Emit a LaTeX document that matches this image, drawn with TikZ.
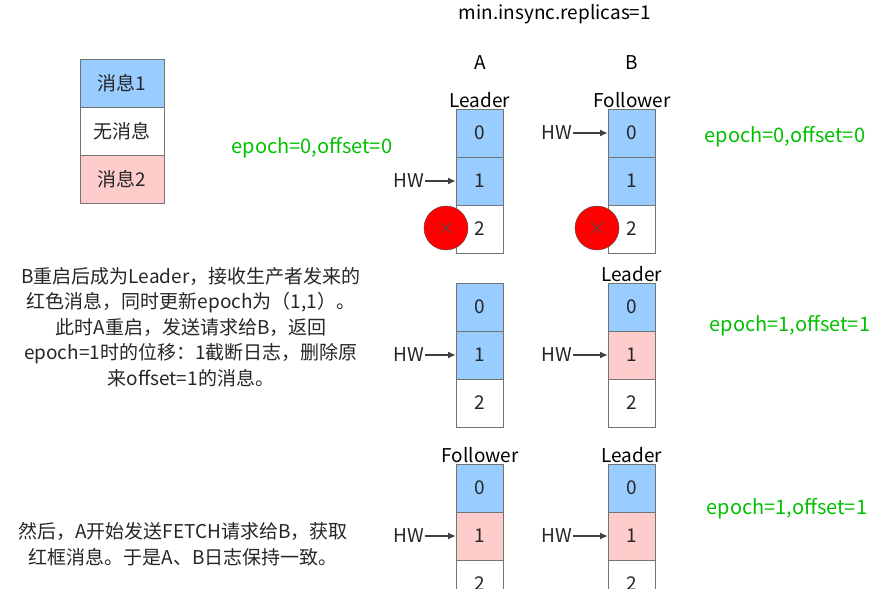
\documentclass[tikz,border=0pt]{standalone}
\usepackage{fontspec}
\setmainfont{Noto Sans CJK SC}
\usetikzlibrary{positioning,arrows.meta}
\definecolor{msgblue}{HTML}{99CCFF}
\definecolor{msgred}{HTML}{FFCCCC}
\definecolor{epochgreen}{HTML}{00C000}
\begin{document}
\begin{tikzpicture}[x=1pt,y=-1pt,font=\fontsize{19}{25.5}\selectfont,
  cell/.style={draw=black!55,line width=1pt,minimum width=47pt,minimum height=48pt,inner sep=0pt,text=black!85},
  blue cell/.style={cell,fill=msgblue},
  red cell/.style={cell,fill=msgred},
  white cell/.style={cell,fill=white},
  legend/.style={cell,minimum width=84pt},
  hw/.style={text=black!85,inner sep=1pt},
  hw arrow/.style={-{Latex[length=8pt,width=7pt]},line width=2pt,black!75},
  epoch/.style={text=epochgreen,font=\fontsize{20}{24}\selectfont},
  crash/.style={circle,draw=black!70,fill=red,minimum size=44pt,inner sep=0pt,
    text=black!70,font=\fontsize{30}{30}\selectfont}]
  \useasboundingbox (0,0) rectangle (881,589);
  \clip (0,0) rectangle (881,589);
  % legend
  \node[legend,fill=msgblue] (l1) at (122,83) {消息1};
  \node[legend,fill=white] (l2) at (122,131) {无消息};
  \node[legend,fill=msgred] (l3) at (122,179) {消息2};
  \node (title) at (555,14) {min.insync.replicas=1};
  \node (colA) at (480,63) {A};
  \node (colB) at (632,63) {B};
  % first step
  \node[blue cell] (a10) at (480,133) {0};
  \node[blue cell] (a11) at (480,181) {1};
  \node[white cell] (a12) at (480,229) {2};
  \node[blue cell] (b10) at (632,133) {0};
  \node[blue cell] (b11) at (632,181) {1};
  \node[white cell] (b12) at (632,229) {2};
  \node[above=-3pt of a10] {Leader};
  \node[above=-3pt of b10] {Follower};
  \node[crash] (xa) at (446,228) {$\times$};
  \node[crash] (xb) at (597,228) {$\times$};
  \node[hw] (hwa1) at (409,181) {HW};
  \node[hw] (hwb1) at (557,133) {HW};
  \draw[hw arrow] (hwa1) -- (a11.west);
  \draw[hw arrow] (hwb1) -- (b10.west);
  \node[epoch] at (312,148) {epoch=0,offset=0};
  \node[epoch] at (785,137) {epoch=0,offset=0};
  % second step
  \node[blue cell] (a20) at (480,307) {0};
  \node[blue cell] (a21) at (480,355) {1};
  \node[white cell] (a22) at (480,403) {2};
  \node[blue cell] (b20) at (632,307) {0};
  \node[red cell] (b21) at (632,355) {1};
  \node[white cell] (b22) at (632,403) {2};
  \node[above=-3pt of b20] {Leader};
  \node[hw] (hwa2) at (409,355) {HW};
  \node[hw] (hwb2) at (557,355) {HW};
  \draw[hw arrow] (hwa2) -- (a21.west);
  \draw[hw arrow] (hwb2) -- (b21.west);
  \node[epoch] at (790,326) {epoch=1,offset=1};
  \node[align=center,text=black!85] at (191,327) {B重启后成为Leader，接收生产者发来的\\红色消息，同时更新epoch为（1,1）。\\此时A重启，发送请求给B，返回\\epoch=1时的位移：1截断日志，删除原\\来offset=1的消息。};
  % third step
  \node[blue cell] (a30) at (480,488) {0};
  \node[red cell] (a31) at (480,536) {1};
  \node[white cell] (a32) at (480,584) {2};
  \node[blue cell] (b30) at (632,488) {0};
  \node[red cell] (b31) at (632,536) {1};
  \node[white cell] (b32) at (632,584) {2};
  \node[above=-3pt of a30] {Follower};
  \node[above=-3pt of b30] {Leader};
  \node[hw] (hwa3) at (409,536) {HW};
  \node[hw] (hwb3) at (557,536) {HW};
  \draw[hw arrow] (hwa3) -- (a31.west);
  \draw[hw arrow] (hwb3) -- (b31.west);
  \node[epoch] at (787,509) {epoch=1,offset=1};
  \node[align=center,text=black!85] at (183,544) {然后，A开始发送FETCH请求给B，获取\\红框消息。于是A、B日志保持一致。};
\end{tikzpicture}
\end{document}
